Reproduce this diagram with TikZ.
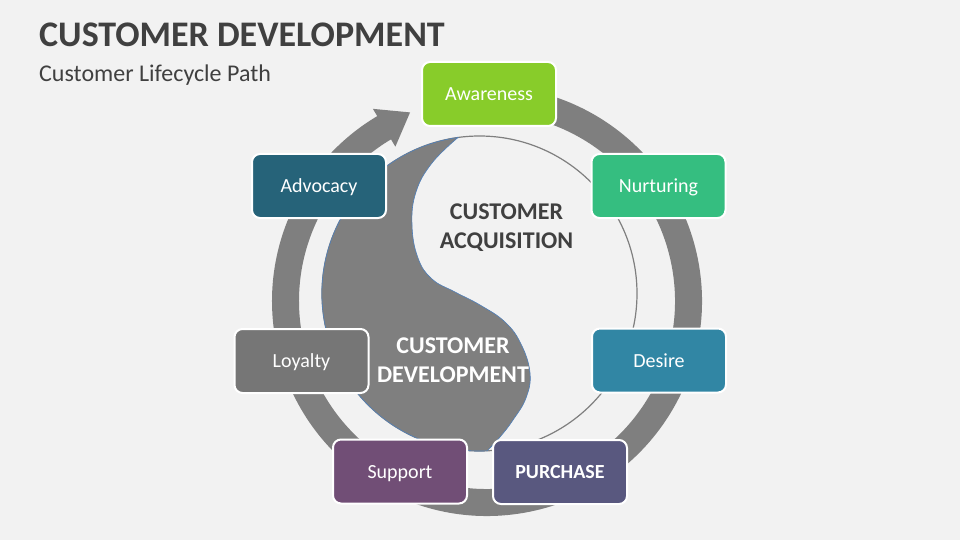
\documentclass[tikz,border=0pt]{standalone}
\usepackage{fontspec}
\setmainfont{Carlito}
\usetikzlibrary{calc}

\definecolor{bgcol}{HTML}{F2F2F2}
\definecolor{titlecol}{HTML}{404040}
\definecolor{ringcol}{HTML}{7F7F7F}
\definecolor{edgeblue}{HTML}{4F7FBA}
\definecolor{awarecol}{HTML}{88CC2A}
\definecolor{nurtcol}{HTML}{35BE80}
\definecolor{advcol}{HTML}{266379}
\definecolor{descol}{HTML}{3186A4}
\definecolor{loycol}{HTML}{767676}
\definecolor{supcol}{HTML}{714E76}
\definecolor{purcol}{HTML}{59587F}

\begin{document}
\begin{tikzpicture}[x=1pt,y=-1pt,
	stage/.style={draw=white,line width=2pt,rounded corners=8pt,
		minimum width=134pt,minimum height=64pt,inner sep=0pt,
		text=white,text height=13pt,text depth=0pt,
		font=\fontsize{20}{24}\selectfont},
	midtext/.style={align=center,inner sep=0pt,
		font=\fontsize{24}{28.5}\selectfont\bfseries},
	ring/.style={draw=ringcol,line width=27pt}]

		\fill[bgcol] (0,0) rectangle (960,540);
		\useasboundingbox (0,0) rectangle (960,540);

		% title
		\node[anchor=base west,inner sep=0pt,text=titlecol,font=\fontsize{36}{40}\selectfont\bfseries] (title) at (39,46.5) {CUSTOMER DEVELOPMENT};
		\node[anchor=base west,inner sep=0pt,text=titlecol,font=\fontsize{24}{28}\selectfont] (subtitle) at (39,82) {Customer Lifecycle Path};

		% big ring with arrow head
		\coordinate (rc) at (487,301);
		\draw[ring] ($(rc)+(-100:201.5)$) arc[start angle=-100,end angle=240,radius=201.5];
		\fill[ringcol] ($(rc)+(-120.7:179.5)$) -- ($(rc)+(-112.2:203.7)$) -- ($(rc)+(-120.7:223.5)$) -- cycle;

		% inner circle
		\coordinate (ic) at (479.5,293.5);
		\draw[ringcol,line width=1.2pt] (ic) circle[radius=157.5];
		\filldraw[fill=ringcol,draw=edgeblue,line width=0.6pt] (458,137.5)
			arc[start angle=-97.8,end angle=-272.7,radius=157.5]
			-- plot[smooth,tension=0.7] coordinates {(487,451) (500,437) (513,420) (526,398) (530,373) (521,344) (505,322) (480,305) (455,292) (432,279) (418,258) (412,225) (416,192) (432,163) (458,137.5)}
			-- cycle;

		\node[midtext,text=titlecol] (acq) at (506.5,227.5) {CUSTOMER\\ACQUISITION};
		\node[midtext,text=white] (dev) at (453,360) {CUSTOMER\\DEVELOPMENT};

		% stages
		\node[stage,fill=awarecol] (aware) at (489,94) {Awareness};
		\node[stage,fill=nurtcol] (nurt) at (658.5,186) {Nurturing};
		\node[stage,fill=descol] (desire) at (659,360.5) {Desire};
		\node[stage,fill=purcol,font=\fontsize{20}{24}\selectfont\bfseries] (purch) at (560,472) {PURCHASE};
		\node[stage,fill=supcol] (supp) at (400,471.5) {Support};
		\node[stage,fill=loycol] (loyal) at (301.5,361) {Loyalty};
		\node[stage,fill=advcol] (advoc) at (319,186) {Advocacy};

	\end{tikzpicture}
\end{document}
